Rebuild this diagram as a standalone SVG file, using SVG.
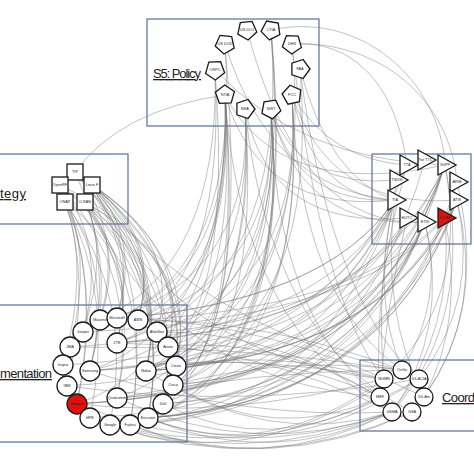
<svg xmlns="http://www.w3.org/2000/svg" xmlns:xlink="http://www.w3.org/1999/xlink" width="474" height="474" viewBox="0 0 474 474">
<style>
.edge path{fill:none;stroke:#777;stroke-width:0.75;stroke-opacity:0.6}
.box{fill:none;stroke:#5b6f96;stroke-width:1.2}
.nd{fill:#fff;stroke:#1a1a1a;stroke-width:1.3}
.red{fill:#e01010}
.lb{font-family:"Liberation Sans",Arial,sans-serif;font-size:3.8px;fill:#222;text-anchor:middle}
.tt{font-family:"Liberation Sans",Arial,sans-serif;font-size:13px;fill:#222;text-decoration:underline}
</style>
<defs>
<polygon id="pent" points="10,0 3.1,9.5 -8.1,5.9 -8.1,-5.9 3.1,-9.5"/>
<polygon id="tri" points="-7,-10 11,0 -7,10"/>
</defs>
<rect width="474" height="474" fill="#fff"/>
<g id="groups">
<rect class="box" x="147" y="19" width="172" height="107"/>
<text class="tt" x="153" y="78" textLength="48">S5: Policy</text>
<rect class="box" x="-5" y="154" width="133" height="70"/>
<text class="tt" x="0" y="198" textLength="26">tegy</text>
<rect class="box" x="372" y="154" width="99" height="90"/>
<rect class="box" x="-5" y="305" width="192" height="137"/>
<text class="tt" x="0" y="378" textLength="52">mentation</text>
<rect class="box" x="360" y="360" width="120" height="71"/>
<text class="tt" x="442" y="402" textLength="33">Coord</text>
</g>
<g id="connectors" class="edge">
<path d="M75,172Q125,231 100,320"/><path d="M75,172Q142,230 117,318"/><path d="M75,172Q163,231 138,320"/><path d="M75,172Q142,242 117,343"/><path d="M75,172Q171,256 146,371"/><path d="M75,172Q198,263 173,385"/><path d="M75,172Q173,280 148,418"/><path d="M75,172Q115,256 90,371"/>
<path d="M60,185Q95,251 70,347"/><path d="M60,185Q108,243 83,332"/><path d="M60,185Q142,249 117,343"/><path d="M60,185Q171,263 146,371"/><path d="M60,185Q193,251 168,347"/><path d="M60,185Q102,279 77,404"/><path d="M60,185Q142,276 117,398"/>
<path d="M92,185Q142,236 117,318"/><path d="M92,185Q163,237 138,320"/><path d="M92,185Q182,243 157,332"/><path d="M92,185Q193,251 168,347"/><path d="M92,185Q201,260 176,366"/><path d="M92,185Q198,270 173,385"/><path d="M92,185Q188,279 163,404"/><path d="M92,185Q171,263 146,371"/><path d="M92,185Q173,286 148,418"/><path d="M92,185Q155,290 130,425"/>
<path d="M65,202Q90,268 63,365"/><path d="M65,202Q92,279 67,386"/><path d="M65,202Q115,271 90,371"/><path d="M65,202Q142,257 117,343"/><path d="M65,202Q102,288 77,404"/><path d="M65,202Q115,295 90,418"/><path d="M65,202Q135,298 110,425"/>
<path d="M85,202Q125,246 100,320"/><path d="M85,202Q110,252 83,332"/><path d="M85,202Q115,271 90,371"/><path d="M85,202Q171,271 146,371"/><path d="M85,202Q201,269 176,366"/><path d="M85,202Q188,288 163,404"/><path d="M85,202Q173,295 148,418"/><path d="M85,202Q155,298 130,425"/><path d="M85,202Q142,285 117,398"/><path d="M85,202Q163,246 138,320"/>
<path d="M225,95Q235,270 117,318"/><path d="M225,95Q235,275 138,320"/><path d="M225,95Q238,295 117,343"/><path d="M225,95Q240,320 146,371"/><path d="M225,95Q245,340 173,385"/><path d="M225,95Q245,365 148,418"/><path d="M225,95Q232,320 90,371"/><path d="M225,95Q230,350 77,404"/>
<path d="M245,109Q255,270 117,318"/><path d="M245,109Q258,295 117,343"/><path d="M245,109Q262,340 173,385"/><path d="M245,109Q260,320 146,371"/><path d="M245,109Q258,350 117,398"/>
<path d="M271,109Q280,275 138,320"/><path d="M271,109Q285,285 157,332"/><path d="M271,109Q285,320 146,371"/><path d="M271,109Q290,365 148,418"/><path d="M271,109Q290,320 176,366"/><path d="M271,109Q292,355 163,404"/><path d="M271,109Q280,325 90,371"/>
<path d="M215,70Q220,265 100,320"/><path d="M215,70Q225,270 138,320"/><path d="M215,70Q232,300 168,347"/>
<path d="M292,95Q305,285 157,332"/><path d="M292,95Q310,340 173,385"/><path d="M292,95Q310,365 148,418"/><path d="M292,95Q305,320 146,371"/>
<path d="M271,30Q290,290 117,343"/><path d="M271,30Q295,320 146,371"/><path d="M271,30Q300,370 148,418"/><path d="M271,30Q300,340 173,385"/>
<path d="M225,44Q240,265 117,318"/><path d="M225,44Q250,340 173,385"/><path d="M292,44Q315,300 168,347"/><path d="M300,69Q320,320 176,366"/>
<path d="M146,371Q375,356 445,165"/><path d="M146,371Q355,356 425,222"/><path d="M146,371Q387,356 457,200"/><path d="M148,418Q375,403 445,165"/><path d="M148,418Q355,403 425,222"/><path d="M148,418Q387,403 457,200"/><path d="M148,418Q325,403 395,200"/>
<path d="M173,385Q355,370 425,222"/><path d="M173,385Q375,370 445,165"/><path d="M176,366Q387,351 457,200"/><path d="M163,404Q355,389 425,222"/><path d="M168,347Q325,332 395,200"/><path d="M157,332Q375,317 445,165"/><path d="M138,320Q387,305 457,200"/><path d="M117,318Q325,303 395,200"/>
<path d="M117,343Q337,328 407,218"/><path d="M117,343Q375,328 445,165"/><path d="M90,371Q337,356 407,165"/><path d="M90,371Q375,356 445,165"/><path d="M77,404Q337,389 407,218"/><path d="M77,404Q375,389 445,165"/><path d="M77,404Q355,389 425,222"/>
<path d="M117,398Q375,383 445,165"/><path d="M117,398Q325,383 395,200"/><path d="M130,425Q355,410 425,160"/><path d="M130,425Q387,410 457,182"/><path d="M110,425Q387,410 457,200"/><path d="M90,418Q355,403 425,222"/><path d="M67,386Q325,371 395,200"/><path d="M63,365Q337,350 407,218"/>
<path d="M70,347Q325,332 395,200"/><path d="M83,332Q387,317 457,200"/><path d="M100,320Q325,305 395,200"/><path d="M163,404Q387,389 457,200"/><path d="M176,366Q325,351 395,200"/><path d="M146,371Q375,356 445,218"/><path d="M148,418Q375,403 445,218"/>
<path d="M148,418Q270,470 392,412"/><path d="M148,418Q266,465 384,379"/><path d="M148,418Q283,468 419,379"/><path d="M130,425Q261,478 392,412"/><path d="M110,425Q256,478 402,370"/><path d="M77,404Q235,468 392,412"/><path d="M90,418Q255,472 419,379"/>
<path d="M117,398Q255,462 392,412"/><path d="M163,404Q271,458 380,397"/><path d="M173,385Q276,445 380,397"/><path d="M146,371Q269,450 392,412"/><path d="M110,425Q261,478 412,412"/><path d="M130,425Q271,478 412,412"/><path d="M90,418Q241,472 392,412"/>
<path d="M146,371Q265,345 384,379"/><path d="M168,347Q274,335 380,397"/><path d="M176,366Q278,350 380,397"/><path d="M138,320Q270,320 402,370"/><path d="M117,318Q270,320 424,397"/><path d="M117,343Q255,345 392,412"/><path d="M90,371Q237,350 384,379"/>
<path d="M157,332Q268,330 380,397"/><path d="M173,385Q287,355 402,370"/><path d="M117,398Q260,370 402,370"/><path d="M90,371Q241,420 392,412"/><path d="M67,386Q243,410 419,379"/><path d="M70,347Q236,345 402,370"/><path d="M77,404Q230,420 384,379"/>
<path d="M445,165Q470,300 384,379"/><path d="M445,165Q475,320 392,412"/><path d="M425,222Q450,330 392,412"/><path d="M425,222Q445,300 402,370"/><path d="M457,200Q480,300 419,379"/><path d="M457,200Q485,310 424,397"/><path d="M457,182Q490,320 412,412"/>
<path d="M395,200Q370,290 402,370"/><path d="M395,200Q380,310 424,397"/><path d="M445,218Q465,320 424,397"/><path d="M445,218Q455,330 392,412"/><path d="M407,218Q385,310 380,397"/><path d="M397,180Q375,290 384,379"/><path d="M407,165Q372,290 380,397"/>
<path d="M292,44C350,40 395,80 407,165"/><path d="M271,30C360,10 440,80 445,165"/><path d="M292,44C380,40 450,100 457,182"/>
<path d="M292,95Q315,200 395,200"/><path d="M292,95Q330,210 457,200"/><path d="M271,109Q300,190 397,180"/><path d="M271,109Q295,205 395,200"/><path d="M271,109Q300,230 425,222"/><path d="M225,95Q260,215 395,200"/><path d="M225,95Q280,200 445,165"/>
<path d="M245,109Q270,230 407,218"/><path d="M300,69Q330,180 395,200"/><path d="M215,70Q300,160 445,165"/><path d="M247,30Q300,230 425,222"/><path d="M225,44Q270,190 395,200"/><path d="M292,95Q330,160 407,165"/>
<path d="M292,95Q300,300 402,370"/><path d="M271,109Q275,320 380,397"/><path d="M225,95Q240,330 392,412"/><path d="M292,44Q320,300 384,379"/><path d="M300,69Q330,300 419,379"/><path d="M245,109Q270,340 412,412"/>
<path d="M75,172Q120,110 225,95"/>
<path d="M92,185Q180,360 384,379"/><path d="M85,202Q170,380 380,397"/><path d="M75,172Q200,330 402,370"/>
</g>
<g id="policy">
<g id="n-usdoj"><use xlink:href="#pent" class="nd" transform="translate(247,30) rotate(-60)"/><text class="lb" x="247" y="31.3">US DOJ</text></g>
<g id="n-ctia"><use xlink:href="#pent" class="nd" transform="translate(271,30) rotate(100)"/><text class="lb" x="271" y="31.3">CTIA</text></g>
<g id="n-usdod"><use xlink:href="#pent" class="nd" transform="translate(225,44) rotate(-120)"/><text class="lb" x="225" y="45.3">US DOD</text></g>
<g id="n-dhs"><use xlink:href="#pent" class="nd" transform="translate(292,44) rotate(20)"/><text class="lb" x="292" y="45.3">DHS</text></g>
<g id="n-orpc"><use xlink:href="#pent" class="nd" transform="translate(215,70) rotate(160)"/><text class="lb" x="215" y="71.3">ORPC</text></g>
<g id="n-faa"><use xlink:href="#pent" class="nd" transform="translate(300,69)"/><text class="lb" x="300" y="70.3">FAA</text></g>
<g id="n-ntia"><use xlink:href="#pent" class="nd" transform="translate(225,95) rotate(-20)"/><text class="lb" x="225" y="96.3">NTIA</text></g>
<g id="n-fcc"><use xlink:href="#pent" class="nd" transform="translate(292,95) rotate(-30)"/><text class="lb" x="292" y="96.3">FCC</text></g>
<g id="n-nsa"><use xlink:href="#pent" class="nd" transform="translate(245,109)"/><text class="lb" x="245" y="110.3">NSA</text></g>
<g id="n-nist"><use xlink:href="#pent" class="nd" transform="translate(271,109) rotate(10)"/><text class="lb" x="271" y="110.3">NIST</text></g>
</g>
<g id="strategy">
<g id="n-tip"><rect class="nd" x="67" y="164" width="16" height="16"/><text class="lb" x="75" y="173.3">TIP</text></g>
<g id="n-openrf"><rect class="nd" x="52" y="177" width="16" height="16"/><text class="lb" x="60" y="186.3">OpenRF</text></g>
<g id="n-linuxf"><rect class="nd" x="84" y="177" width="16" height="16"/><text class="lb" x="92" y="186.3">Linux F</text></g>
<g id="n-onap"><rect class="nd" x="57" y="194" width="16" height="16"/><text class="lb" x="65" y="203.3">ONAP</text></g>
<g id="n-oran"><rect class="nd" x="77" y="194" width="16" height="16"/><text class="lb" x="85" y="203.3">O-RAN</text></g>
</g>
<g id="sdo">
<g id="n-tta"><use xlink:href="#tri" class="nd" x="407" y="165"/><text class="lb" x="407" y="166.3">TTA</text></g>
<g id="n-ttc"><use xlink:href="#tri" class="nd" x="425" y="160"/><text class="lb" x="425" y="161.3">The TTC</text></g>
<g id="n-3gpp"><use xlink:href="#tri" class="nd" x="445" y="165"/><text class="lb" x="445" y="166.3">3GPP</text></g>
<g id="n-tsdsi"><use xlink:href="#tri" class="nd" x="397" y="180"/><text class="lb" x="397" y="181.3">TSDSI</text></g>
<g id="n-arib"><use xlink:href="#tri" class="nd" x="457" y="182"/><text class="lb" x="457" y="183.3">ARIB</text></g>
<g id="n-tia"><use xlink:href="#tri" class="nd" x="395" y="200"/><text class="lb" x="395" y="201.3">TIA</text></g>
<g id="n-atis"><use xlink:href="#tri" class="nd" x="457" y="200"/><text class="lb" x="457" y="201.3">ATIS</text></g>
<g id="n-eutc"><use xlink:href="#tri" class="nd" x="407" y="218"/><text class="lb" x="407" y="219.3">EUTC</text></g>
<g id="n-etsi"><use xlink:href="#tri" class="nd" x="425" y="222"/><text class="lb" x="425" y="223.3">ETSI</text></g>
<g id="n-ccsa"><use xlink:href="#tri" class="nd red" x="445" y="218"/><text class="lb" x="445" y="219.3">CCSA</text></g>
</g>
<g id="implementation">
<g id="n-mavenir"><circle class="nd" cx="100" cy="320" r="10"/><text class="lb" x="100" y="321.3">Mavenir</text></g>
<g id="n-microsoft"><circle class="nd" cx="117" cy="318" r="10"/><text class="lb" x="117" y="319.3">Microsoft</text></g>
<g id="n-aws"><circle class="nd" cx="138" cy="320" r="10"/><text class="lb" x="138" y="321.3">AWS</text></g>
<g id="n-juniper"><circle class="nd" cx="83" cy="332" r="10"/><text class="lb" x="83" y="333.3">Juniper</text></g>
<g id="n-altiostar"><circle class="nd" cx="157" cy="332" r="10"/><text class="lb" x="157" y="333.3">AltioStar</text></g>
<g id="n-jma"><circle class="nd" cx="70" cy="347" r="10"/><text class="lb" x="70" y="348.3">JMA</text></g>
<g id="n-zte"><circle class="nd" cx="117" cy="343" r="10"/><text class="lb" x="117" y="344.3">ZTE</text></g>
<g id="n-arista"><circle class="nd" cx="168" cy="347" r="10"/><text class="lb" x="168" y="348.3">Arista</text></g>
<g id="n-inspur"><circle class="nd" cx="63" cy="365" r="10"/><text class="lb" x="63" y="366.3">Inspur</text></g>
<g id="n-samsung"><circle class="nd" cx="90" cy="371" r="10"/><text class="lb" x="90" y="372.3">Samsung</text></g>
<g id="n-nokia"><circle class="nd" cx="146" cy="371" r="10"/><text class="lb" x="146" y="372.3">Nokia</text></g>
<g id="n-ciena"><circle class="nd" cx="176" cy="366" r="10"/><text class="lb" x="176" y="367.3">Ciena</text></g>
<g id="n-ibm"><circle class="nd" cx="67" cy="386" r="10"/><text class="lb" x="67" y="387.3">IBM</text></g>
<g id="n-cisco"><circle class="nd" cx="173" cy="385" r="10"/><text class="lb" x="173" y="386.3">Cisco</text></g>
<g id="n-qualcomm"><circle class="nd" cx="117" cy="398" r="10"/><text class="lb" x="117" y="399.3">Qualcomm</text></g>
<g id="n-huawei"><circle class="nd red" cx="77" cy="404" r="10"/><text class="lb" x="77" y="405.3">Huawei</text></g>
<g id="n-dell"><circle class="nd" cx="163" cy="404" r="10"/><text class="lb" x="163" y="405.3">Dell</text></g>
<g id="n-hpe"><circle class="nd" cx="90" cy="418" r="10"/><text class="lb" x="90" y="419.3">HPE</text></g>
<g id="n-google"><circle class="nd" cx="110" cy="425" r="10"/><text class="lb" x="110" y="426.3">Google</text></g>
<g id="n-fujitsu"><circle class="nd" cx="130" cy="425" r="10"/><text class="lb" x="130" y="426.3">Fujitsu</text></g>
<g id="n-ericsson"><circle class="nd" cx="148" cy="418" r="10"/><text class="lb" x="148" y="419.3">Ericsson</text></g>
</g>
<g id="coordination">
<g id="n-ongo"><circle class="nd" cx="402" cy="370" r="9"/><text class="lb" x="402" y="371.3">OnGo</text></g>
<g id="n-ngmn"><circle class="nd" cx="384" cy="379" r="9"/><text class="lb" x="384" y="380.3">NGMN</text></g>
<g id="n-5gacia"><circle class="nd" cx="419" cy="379" r="9"/><text class="lb" x="419" y="380.3">5G-ACIA</text></g>
<g id="n-mef"><circle class="nd" cx="380" cy="397" r="9"/><text class="lb" x="380" y="398.3">MEF</text></g>
<g id="n-5gam"><circle class="nd" cx="424" cy="397" r="9"/><text class="lb" x="424" y="398.3">5G-Am</text></g>
<g id="n-gsma"><circle class="nd" cx="392" cy="412" r="9"/><text class="lb" x="392" y="413.3">GSMA</text></g>
<g id="n-gsa"><circle class="nd" cx="412" cy="412" r="9"/><text class="lb" x="412" y="413.3">GSA</text></g>
</g>
</svg>
